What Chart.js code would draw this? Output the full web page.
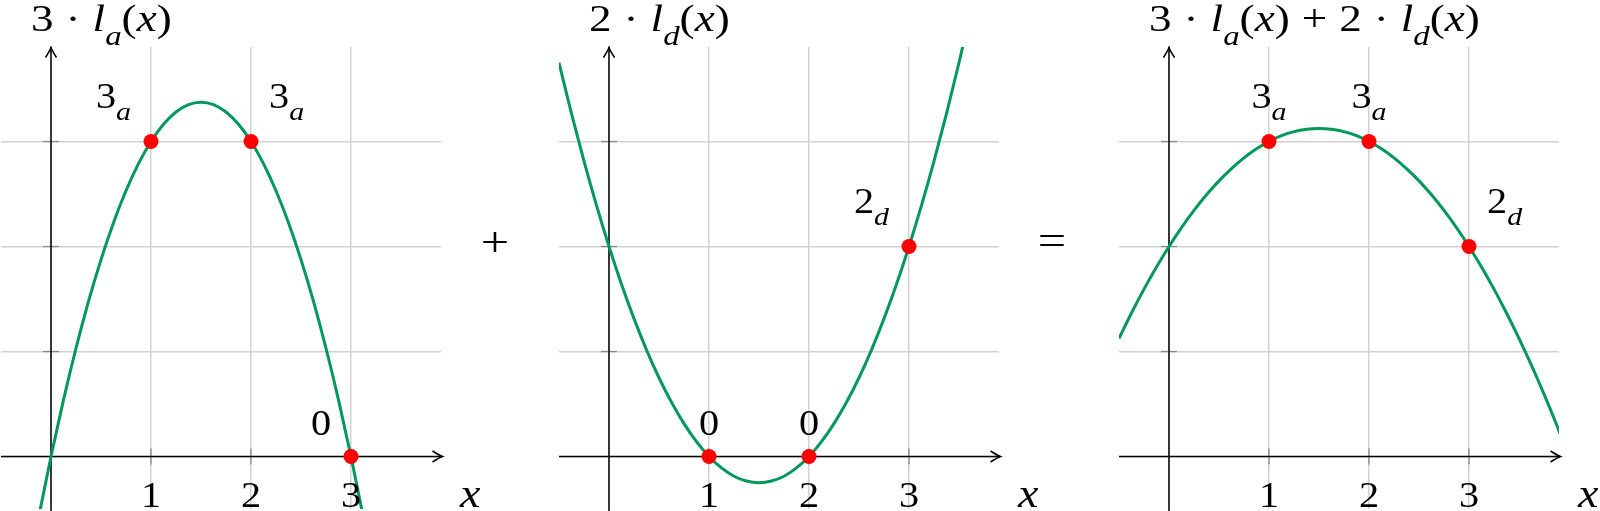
<!DOCTYPE html>
<html>
<head>
<meta charset="utf-8">
<title>Lagrange basis sum</title>
<script src="https://cdn.jsdelivr.net/npm/chart.js@4.4.1/dist/chart.umd.min.js"></script>
<style>
  html, body { margin: 0; padding: 0; background: #fff; }
  #wrap { position: relative; width: 1600px; height: 511px; overflow: hidden; }
  /* canvases are a bit larger than the page so Chart.js' own edge padding falls outside it */
  #wrap canvas { position: absolute; left: -20px; top: 0; }
  .op {
    position: absolute; transform: translate(-50%, -50%) scaleX(1.2);
    font: 42px 'Liberation Serif', serif; line-height: 1; color: #000;
  }
</style>
</head>
<body>
<div id="wrap">
  <canvas id="chartA" width="1640" height="530"></canvas>
  <canvas id="chartD" width="1640" height="530"></canvas>
  <canvas id="chartS" width="1640" height="530"></canvas>
  <div class="op" style="left:495px; top:242px">+</div>
  <div class="op" style="left:1052px; top:240px">=</div>
</div>

<script>
'use strict';

/* ── Data ── */
const xs = [-0.5, -0.375, -0.25, -0.125, 0, 0.125, 0.25, 0.375, 0.5, 0.625, 0.75, 0.875,
            1, 1.125, 1.25, 1.375, 1.5, 1.625, 1.75, 1.875, 2, 2.125, 2.25, 2.375,
            2.5, 2.625, 2.75, 2.875, 3, 3.125, 3.25, 3.375, 3.5, 3.625, 3.75, 3.875, 4];
const curveA = [-2.625, -1.898, -1.219, -0.586, 0, 0.539, 1.031, 1.477, 1.875, 2.227, 2.531, 2.789,
                3, 3.164, 3.281, 3.352, 3.375, 3.352, 3.281, 3.164, 3, 2.789, 2.531, 2.227,
                1.875, 1.477, 1.031, 0.539, 0, -0.586, -1.219, -1.898, -2.625, -3.398, -4.219, -5.086, -6];
const curveD = [3.75, 3.266, 2.813, 2.391, 2, 1.641, 1.313, 1.016, 0.75, 0.516, 0.313, 0.141,
                0, -0.109, -0.188, -0.234, -0.25, -0.234, -0.188, -0.109, 0, 0.141, 0.313, 0.516,
                0.75, 1.016, 1.313, 1.641, 2, 2.391, 2.813, 3.266, 3.75, 4.266, 4.813, 5.391, 6];
const curveSum = [1.125, 1.367, 1.594, 1.805, 2, 2.18, 2.344, 2.492, 2.625, 2.742, 2.844, 2.93,
                  3, 3.055, 3.094, 3.117, 3.125, 3.117, 3.094, 3.055, 3, 2.93, 2.844, 2.742,
                  2.625, 2.492, 2.344, 2.18, 2, 1.805, 1.594, 1.367, 1.125, 0.867, 0.594, 0.305, 0];

const nodeX      = [1, 2, 3];
const nodeYA     = [3, 3, 0];
const nodeYD     = [0, 0, 2];
const nodeYS     = [3, 3, 2];
const nodeTextA  = ['3', '3', '0'];
const nodeSubA   = ['a', 'a', ''];
const nodeTextD  = ['0', '0', '2'];
const nodeSubD   = ['', '', 'd'];
const nodeTextS  = ['3', '3', '2'];
const nodeSubS   = ['a', 'a', 'd'];

const tickValues = [1, 2, 3];
const tickLabels = ['1', '2', '3'];
const axisLabel  = 'x';

// title runs: r = roman, i = italic, s = italic subscript, op = binary operator
const titleA = [['3', 'r'], ['·', 'op'], ['l', 'i'], ['a', 's'], ['(', 'r'], ['x', 'i'], [')', 'r']];
const titleD = [['2', 'r'], ['·', 'op'], ['l', 'i'], ['d', 's'], ['(', 'r'], ['x', 'i'], [')', 'r']];
const titleS = [['3', 'r'], ['·', 'op'], ['l', 'i'], ['a', 's'], ['(', 'r'], ['x', 'i'], [')', 'r'],
                ['+', 'op'], ['2', 'r'], ['·', 'op'], ['l', 'i'], ['d', 's'], ['(', 'r'], ['x', 'i'], [')', 'r']];

/* ── Style ── */
const SERIF = "'Liberation Serif', 'Times New Roman', serif";
const GREEN = '#00995a';
const RED   = '#ff0000';
const GRID  = '#d2d2d2';
const OFF   = 20;   // canvas sits OFF px left of the page
const CANVAS_W = 1640, CANVAS_H = 530;

/* ── Text helpers (glyphs are a little wider than Times, so stretch) ── */
const runFont = (s, fs) => (s === 'i' || s === 's' ? 'italic ' : '') + fs + 'px ' + SERIF;

const drawRuns = (ctx, runs, x, y, t, measureOnly) => {
  let cx = x;
  runs.forEach(([txt, s]) => {
    const fs = s === 's' ? t.sub : t.size;
    ctx.font = runFont(s, fs);
    const gap = s === 'op' ? t.opGap : 0;
    cx += gap;
    if (!measureOnly) {
      ctx.save();
      ctx.translate(cx, s === 's' ? y + t.drop : y);
      ctx.scale(t.sx, 1);
      ctx.fillText(txt, 0, 0);
      ctx.restore();
    }
    cx += ctx.measureText(txt).width * t.sx + gap;
  });
  return cx - x;
};

const TITLE_TXT = { size: 37, sub: 27, drop: 14, sx: 1.22, opGap: 12 };
const LABEL_TXT = { size: 35, sub: 26, drop: 12, sx: 1.15, opGap: 0 };
const AXIS_TXT  = { size: 40, sub: 28, drop: 12, sx: 1.15, opGap: 0 };

const arrowHead = (ctx, x, y, angle) => {
  ctx.save();
  ctx.translate(x, y);
  ctx.rotate(angle);
  ctx.beginPath();
  ctx.moveTo(-10, -5.5);
  ctx.quadraticCurveTo(-3, -1, 0, 0);
  ctx.quadraticCurveTo(-3, 1, -10, 5.5);
  ctx.stroke();
  ctx.restore();
};

/* ── Plugin: axes, arrows, labels ── */
const mathDecor = {
  id: 'mathDecor',
  beforeDatasetsDraw(chart) {
    const { ctx, chartArea: a, scales: { x, y } } = chart;
    const x0 = x.getPixelForValue(0), y0 = y.getPixelForValue(0);
    ctx.save();
    // short tick marks across the axes
    ctx.strokeStyle = 'rgba(0,0,0,0.35)';
    ctx.lineWidth = 1.4;
    tickValues.forEach(v => {
      const px = x.getPixelForValue(v), py = y.getPixelForValue(v);
      ctx.beginPath(); ctx.moveTo(px, y0 - 8); ctx.lineTo(px, y0 + 8); ctx.stroke();
      ctx.beginPath(); ctx.moveTo(x0 - 8, py); ctx.lineTo(x0 + 8, py); ctx.stroke();
    });
    ctx.strokeStyle = '#000';
    ctx.lineWidth = 1.5;
    ctx.beginPath(); ctx.moveTo(a.left, y0); ctx.lineTo(a.right + 1, y0); ctx.stroke();
    ctx.beginPath(); ctx.moveTo(x0, a.bottom + 2); ctx.lineTo(x0, a.top); ctx.stroke();
    arrowHead(ctx, a.right + 1.5, y0, 0);
    arrowHead(ctx, x0, a.top + 0.5, -Math.PI / 2);
    ctx.restore();
  },
  afterDatasetsDraw(chart, args, opts) {
    const { ctx, chartArea: a, scales: { x, y } } = chart;
    const x0 = x.getPixelForValue(0), y0 = y.getPixelForValue(0);
    ctx.save();
    ctx.fillStyle = '#000';
    ctx.textBaseline = 'alphabetic';
    ctx.textAlign = 'left';

    drawRuns(ctx, opts.title, x0 - 20, 31, TITLE_TXT);

    // tick labels along x, then the axis name
    tickValues.forEach((v, i) => {
      const runs = [[tickLabels[i], 'r']];
      const w = drawRuns(ctx, runs, 0, 0, LABEL_TXT, true);
      drawRuns(ctx, runs, x.getPixelForValue(v) - w / 2, y0 + 50, LABEL_TXT);
    });
    drawRuns(ctx, [[axisLabel, 'i']], a.right + 19, y0 + 50, AXIS_TXT);

    // node labels
    opts.nodes.forEach((n, i) => {
      const px = x.getPixelForValue(nodeX[i]), py = y.getPixelForValue(n.y);
      const runs = n.sub ? [[n.text, 'r'], [n.sub, 's']] : [[n.text, 'r']];
      const w = drawRuns(ctx, runs, 0, 0, LABEL_TXT, true);
      const bottom = py - 22;
      const base = n.sub ? bottom - LABEL_TXT.drop : bottom;
      let left = px - w / 2;
      if (n.anchor === 'above left') left = px - 20 - w;
      if (n.anchor === 'above right') left = px + 18;
      drawRuns(ctx, runs, left, base, LABEL_TXT);
    });
    ctx.restore();
  }
};

/* ── Chart factory: left = page x of the plot's left edge ── */
const makeChart = (canvasId, curve, nodeY, texts, subs, anchors, title, left) => {
  const right = left + 440;
  const nodes = nodeY.map((v, i) => ({ y: v, text: texts[i], sub: subs[i], anchor: anchors[i] }));
  const axisOpts = {
    type: 'linear', min: -0.5, max: 3.9,
    ticks: { display: false, stepSize: 1, includeBounds: false },
    grid: { color: GRID, lineWidth: 1.5, drawTicks: false },
    border: { display: false },
  };
  return new Chart(document.getElementById(canvasId), {
    type: 'scatter',
    data: {
      datasets: [
        {
          data: xs.map((v, i) => ({ x: v, y: curve[i] })),
          showLine: true,
          borderColor: GREEN,
          borderWidth: 3,
          pointRadius: 0,
          cubicInterpolationMode: 'monotone',
          order: 2,
        },
        {
          data: nodeX.map((v, i) => ({ x: v, y: nodeY[i] })),
          pointRadius: 7.5,
          pointBackgroundColor: RED,
          pointBorderWidth: 0,
          order: 1,
        },
      ],
    },
    options: {
      responsive: false,
      animation: false,
      events: [],
      layout: { padding: { left: left + OFF, right: CANVAS_W - OFF - right, top: 47, bottom: CANVAS_H - 509 } },
      plugins: {
        legend: { display: false },
        tooltip: { enabled: false },
        mathDecor: { title, nodes },
      },
      scales: { x: axisOpts, y: { ...axisOpts } },
    },
    plugins: [mathDecor],
  });
};

makeChart('chartA', curveA,   nodeYA, nodeTextA, nodeSubA, ['above left', 'above right', 'above left'], titleA, 1);
makeChart('chartD', curveD,   nodeYD, nodeTextD, nodeSubD, ['above', 'above', 'above left'],            titleD, 559);
makeChart('chartS', curveSum, nodeYS, nodeTextS, nodeSubS, ['above', 'above', 'above right'],           titleS, 1119);
</script>
</body>
</html>
